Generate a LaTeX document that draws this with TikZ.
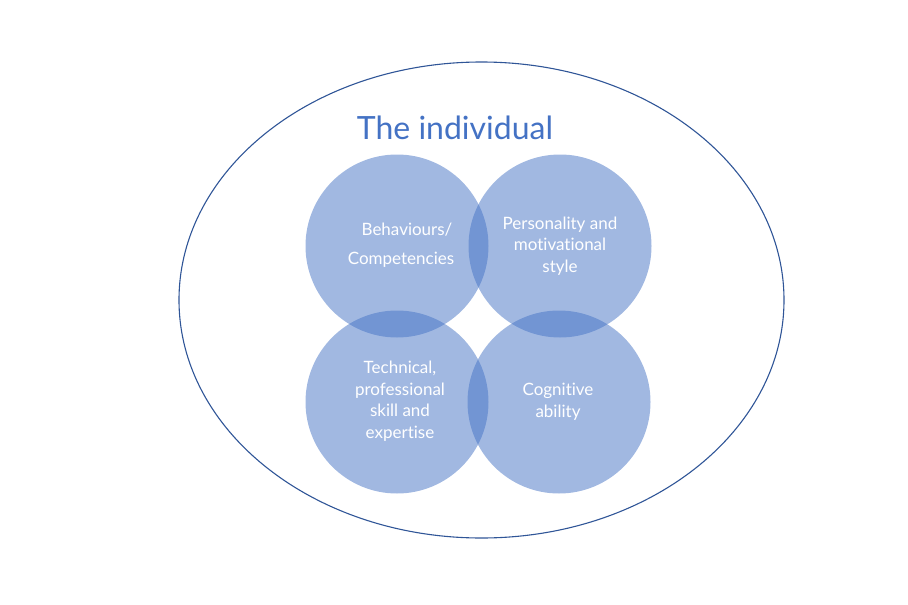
\documentclass[tikz,border=0pt]{standalone}
\usepackage{fontspec}
\usetikzlibrary{shapes.geometric}
\setmainfont[Ligatures={NoCommon}]{Lato}
\definecolor{acc}{RGB}{68,114,196}
\definecolor{ring}{RGB}{47,85,151}
\begin{document}
\begin{tikzpicture}[x=1pt,y=-1pt,
  bubble/.style={circle,minimum size=183pt,inner sep=0pt,fill=acc,fill opacity=0.5,draw=none},
  lbl/.style={text=white,align=center,font=\fontsize{17}{21.5}\selectfont}]
\useasboundingbox (0,0) rectangle (908,605);
\node[draw=ring,line width=1.1pt,ellipse,minimum width=605pt,minimum height=476pt,inner sep=0pt] (outer) at (481.5,300) {};
\node[bubble] (tl) at (397,246) {};
\node[bubble] (tr) at (560,246) {};
\node[bubble] (bl) at (397,402) {};
\node[bubble] (br) at (559,402) {};
\node[text=acc,font=\fontsize{32}{36}\selectfont,anchor=base] (title) at (455,139) {The individual};
\node[lbl,font=\fontsize{17}{29}\selectfont] (t1) at (401,245) {\hspace*{12pt}Behaviours/\\Competencies};
\node[lbl] (t2) at (560,246) {Personality and\\motivational\\style};
\node[lbl] (t3) at (400,401) {Technical,\\professional\\skill and\\expertise};
\node[lbl] (t4) at (558,402) {Cognitive\\ability};
\end{tikzpicture}
\end{document}
